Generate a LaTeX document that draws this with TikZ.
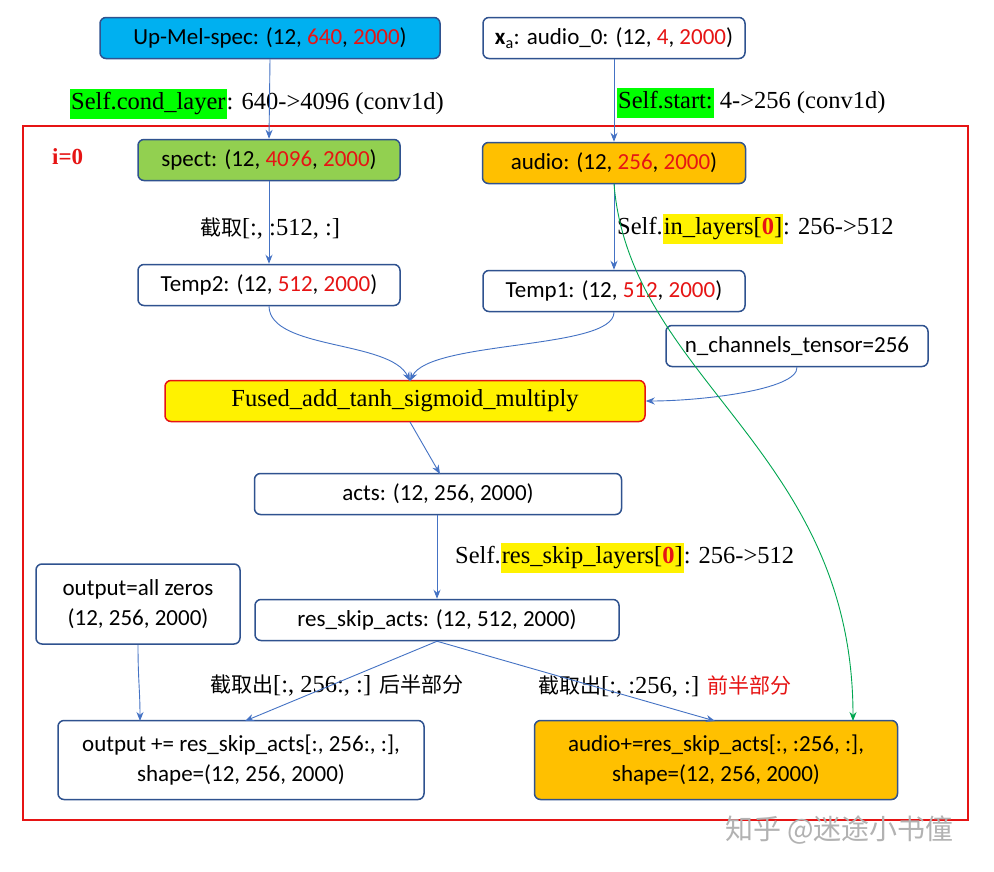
\documentclass[tikz,border=0pt]{standalone}
\usepackage{fontspec}
\setmainfont{Liberation Serif}
\newfontfamily\boxf{Carlito}
\newfontfamily\cjk{Noto Sans CJK SC}
\usetikzlibrary{arrows.meta}
\definecolor{bl}{RGB}{68,114,196}
\definecolor{bd}{RGB}{47,82,143}
\definecolor{cy}{RGB}{0,176,240}
\definecolor{gr}{RGB}{146,208,80}
\definecolor{og}{RGB}{255,192,0}
\definecolor{rd}{RGB}{230,20,20}
\definecolor{gg}{RGB}{0,166,80}
\newcommand{\R}[1]{\textcolor{rd}{#1}}
\newcommand{\HL}[2]{\colorbox{#1}{\strut #2}}
\newcommand{\CJ}{\cjk\fontsize{21}{24}\selectfont}
\begin{document}
\begin{tikzpicture}[x=1pt,y=-1pt,
 bx/.style={draw=bd,line width=1.5pt,rounded corners=6pt,font=\boxf\fontsize{23}{30}\selectfont,inner sep=0pt,align=center},
 lb/.style={font=\fontsize{24.5}{28}\selectfont,inner sep=0pt,anchor=west},
 ar/.style={draw=bl,line width=0.9pt,-{Stealth[length=9pt,width=7pt]}}]
\useasboundingbox (0,0) rectangle (994,871);
\fill[white] (0,0) rectangle (994,871);
\draw[rd,line width=1.2pt] (23,126) rectangle (968,820);
\node[bx,fill=cy,minimum width=340,minimum height=41] (mel) at (270,38) {Up-Mel-spec: (12, \R{640}, \R{2000})};
\node[bx,fill=white,minimum width=262,minimum height=41] (xa) at (614,38) {\textbf{x}\textsubscript{a}: audio\_0: (12, \R{4}, \R{2000})};
\node[lb] (cl) at (70,104) {\setlength{\fboxsep}{1pt}\HL{green}{Self.cond\_layer}: 640->4096 (conv1d)};
\node[lb] (st) at (617,103) {\setlength{\fboxsep}{1pt}\HL{green}{Self.start:} 4->256 (conv1d)};
\node[font=\bfseries\fontsize{23}{26}\selectfont,text=rd,anchor=west,inner sep=0pt] (i0) at (52,157) {i=0};
\node[bx,fill=gr,minimum width=262,minimum height=41] (spect) at (269,160) {spect: (12, \R{4096}, \R{2000})};
\node[bx,fill=og,minimum width=263,minimum height=41] (audio) at (614,163) {audio: (12, \R{256}, \R{2000})};
\node[font=\fontsize{24.5}{28}\selectfont,inner sep=0pt] (c1) at (270,229) {{\CJ 截取}[:, :512, :]};
\node[lb] (inl) at (617,229) {Self.\setlength{\fboxsep}{1pt}\HL{yellow}{in\_layers[\R{\textbf{0}}]}: 256->512};
\node[bx,fill=white,minimum width=262,minimum height=41] (t2) at (269,285) {Temp2: (12, \R{512}, \R{2000})};
\node[bx,fill=white,minimum width=262,minimum height=41] (t1) at (614,291) {Temp1: (12, \R{512}, \R{2000})};
\node[bx,fill=white,minimum width=262,minimum height=41] (nc) at (797,346) {n\_channels\_tensor=256};
\node[bx,draw=rd,fill=yellow,minimum width=480,minimum height=41,font=\fontsize{24.5}{28}\selectfont] (fu) at (405,401) {Fused\_add\_tanh\_sigmoid\_multiply};
\node[bx,fill=white,minimum width=367,minimum height=41] (acts) at (438,494) {acts: (12, 256, 2000)};
\node[lb] (rsl) at (455,558) {Self.\setlength{\fboxsep}{1pt}\HL{yellow}{res\_skip\_layers[\R{\textbf{0}}]}: 256->512};
\node[bx,fill=white,minimum width=204,minimum height=80] (oz) at (138,604) {output=all zeros\\(12, 256, 2000)};
\node[bx,fill=white,minimum width=364,minimum height=41] (rs) at (437,620) {res\_skip\_acts: (12, 512, 2000)};
\node[font=\fontsize{24.5}{28}\selectfont,inner sep=0pt,anchor=west] (k1) at (210,686) {{\CJ 截取出}[:, 256:, :] {\CJ 后半部分}};
\node[font=\fontsize{24.5}{28}\selectfont,inner sep=0pt,anchor=west] (k2) at (538,687) {{\CJ 截取出}[:, :256, :] {\CJ\textcolor{rd}{前半部分}}};
\node[bx,fill=white,minimum width=366,minimum height=79] (ob) at (241,760) {output += res\_skip\_acts[:, 256:, :],\\shape=(12, 256, 2000)};
\node[bx,fill=og,minimum width=363,minimum height=79] (ab) at (716,760) {audio+=res\_skip\_acts[:, :256, :],\\shape=(12, 256, 2000)};
\node[font=\cjk\fontsize{28}{32}\selectfont,text=gray!60,anchor=west,inner sep=0pt] (wm) at (725,830) {知乎 @迷途小书僮};
\draw[ar] (mel.south) -- (spect.north);
\draw[ar] (xa.south) -- (audio.north);
\draw[ar] (spect.south) -- (t2.north);
\draw[ar] (audio.south) -- (t1.north);
\draw[ar] (t2.south) .. controls (270,350) and (390,340) .. (410,381);
\draw[ar] (t1.south) .. controls (614,350) and (430,340) .. (410,381);
\draw[ar] (nc.south) .. controls (798,390) and (700,401) .. (fu.east);
\draw[ar] (410,422) -- (440,474);
\draw[ar] (437,515) -- (rs.north);
\draw[ar] (oz.south) .. controls (138,680) and (140,690) .. (140,721);
\draw[ar] (rs.south) -- (245,721);
\draw[ar] (rs.south) -- (715,721);
\draw[gg,line width=0.9pt,-{Stealth[length=9pt,width=7pt]}] (614,184) .. controls (630,380) and (853,450) .. (853,721);
\end{tikzpicture}
\end{document}
